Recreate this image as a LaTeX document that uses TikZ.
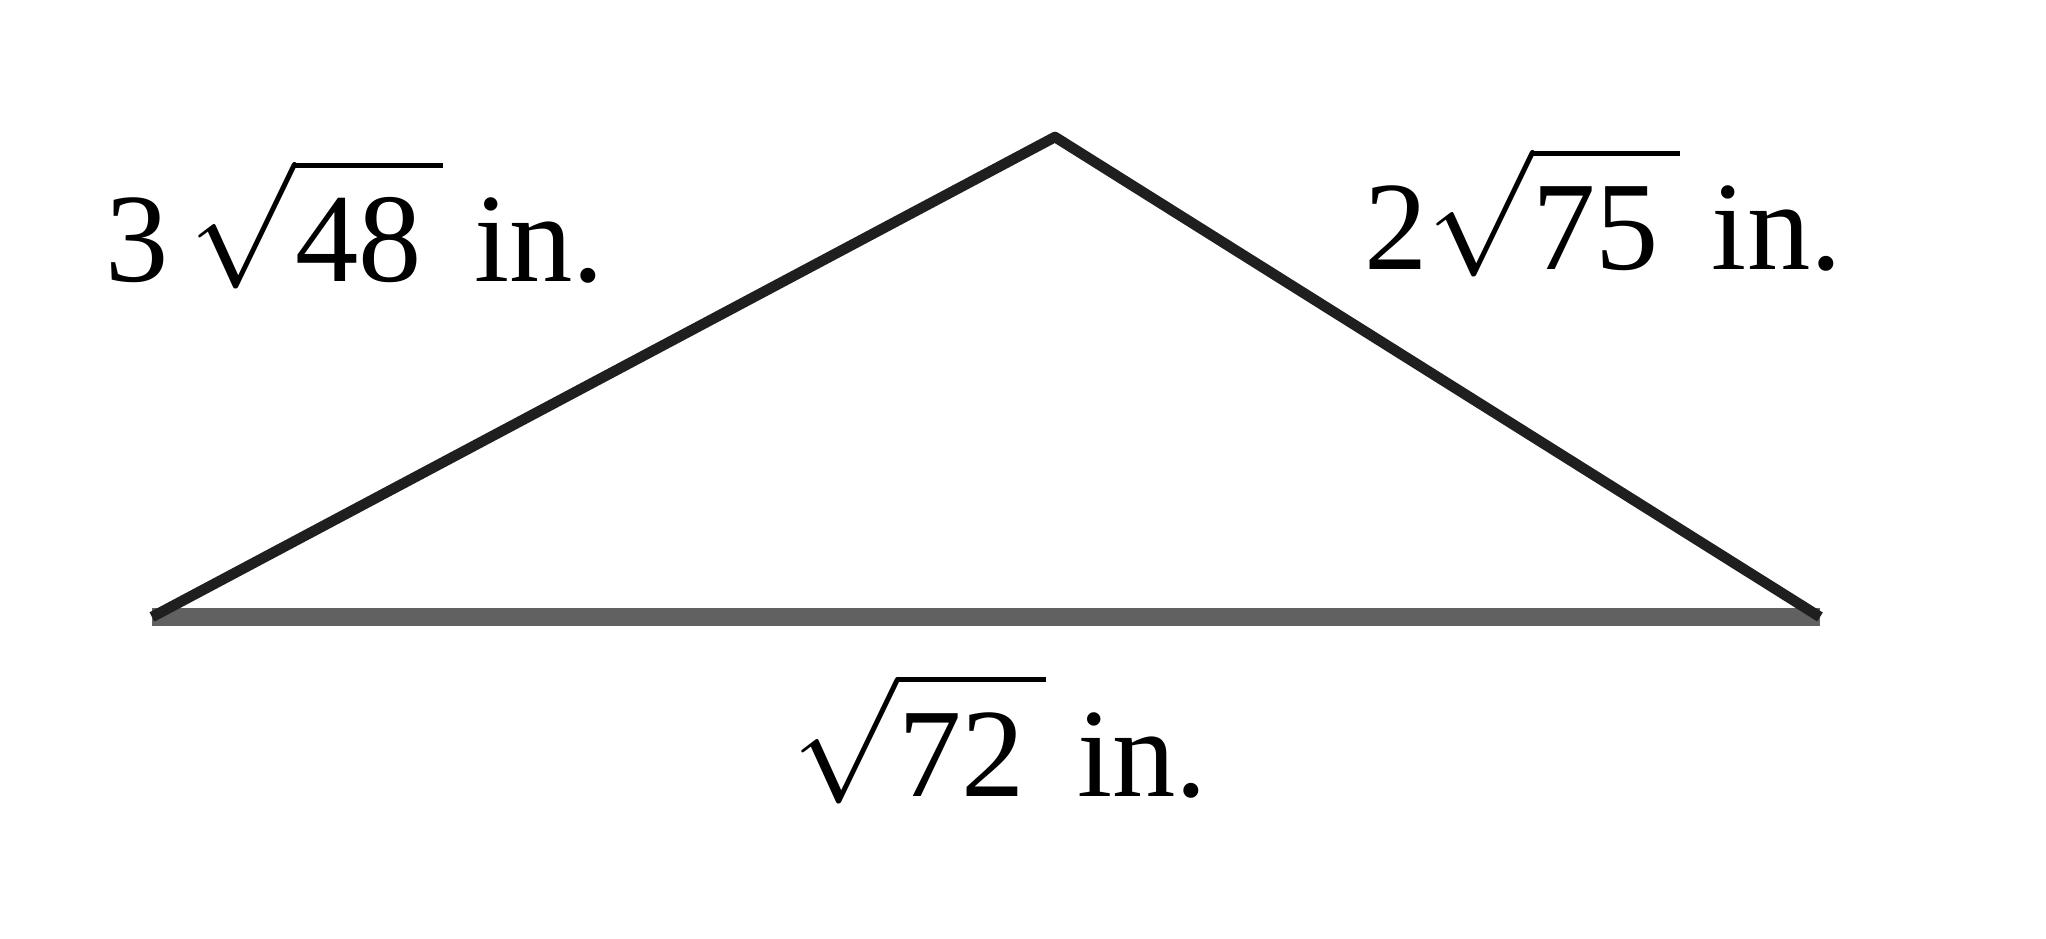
\RequirePackage{fix-cm}
\documentclass[tikz,border=0pt]{standalone}
\usepackage{fontspec}
\setmainfont{Liberation Serif}
\usepackage{tikz}
\tikzset{
	side/.style={line width=3pt, color=black!88, line join=round},
	base/.style={line width=5pt, color=black!62},
	lbl/.style={anchor=base, inner sep=0pt, font=\fontsize{36}{40}\selectfont}
}
\newcommand{\rt}[1]{\sqrt{\mbox{\rule{0pt}{0.84em}#1}\,}}

\begin{document}
\begin{tikzpicture}
		%%%%% START %%%%%
		\useasboundingbox (0, 0) rectangle (20.46, 9.39);
		
		\coordinate (left) at (1.52, 3.22);
		\coordinate (top) at (10.55, 8.02);
		\coordinate (right) at (18.20, 3.22);
		
		\draw[base] (left) -- (right);
		\draw[side] (left) -- (top) -- (right);
		
		\node[lbl] (sideL) at (3.55, 6.57) {3\,$\rt{48}$\ in.};
		\node[lbl] (sideR) at (16.03, 6.69) {2$\rt{75}$\ in.};
		\node[lbl] (sideB) at (10.0, 1.42) {$\rt{72}$\ in.};
		
		%%%%% END %%%%%
	\end{tikzpicture}
\end{document}
